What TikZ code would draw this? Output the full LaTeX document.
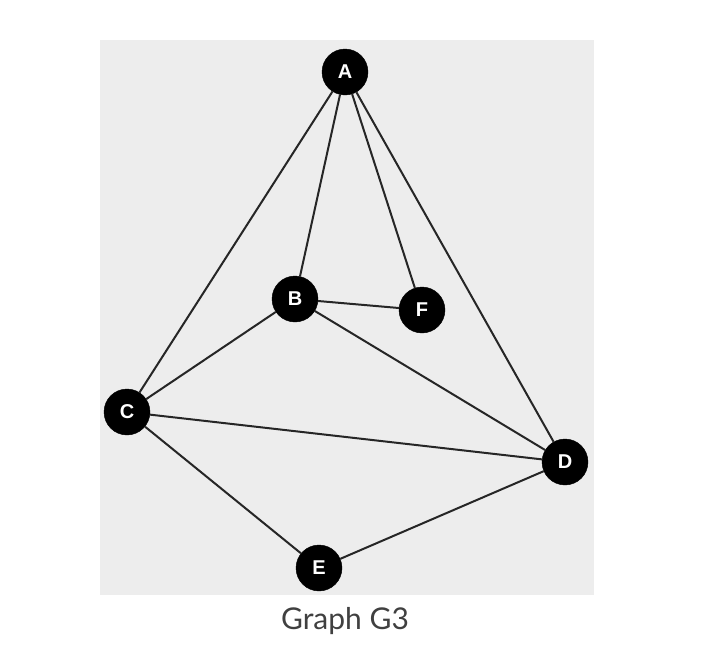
\documentclass[tikz,border=0pt]{standalone}
\usepackage{fontspec}
\setmainfont{Lato}
\setsansfont{Liberation Sans}
\begin{document}
\begin{tikzpicture}[x=1pt,y=-1pt,
  vtx/.style={circle,fill=black,draw=black,minimum size=46pt,inner sep=0pt,text=white,font=\sffamily\bfseries\fontsize{20}{20}\selectfont},
  edge/.style={draw=black!85,line width=2pt}]
\useasboundingbox (0,0) rectangle (702,670);
\fill[gray!14] (100,40) rectangle (594,595);
\node[vtx] (A) at (345,72) {A};
\node[vtx] (B) at (295,299) {B};
\node[vtx] (F) at (422,310) {F};
\node[vtx] (C) at (127,412) {C};
\node[vtx] (D) at (565,462) {D};
\node[vtx] (E) at (319,568) {E};
\foreach \a/\b in {A/B,A/F,A/C,A/D,B/F,B/C,B/D,C/D,C/E,E/D}
  \draw[edge] (\a) -- (\b);
\node[text=black!75,font=\fontsize{30}{30}\selectfont] (cap) at (345,621) {Graph G3};
\end{tikzpicture}
\end{document}
